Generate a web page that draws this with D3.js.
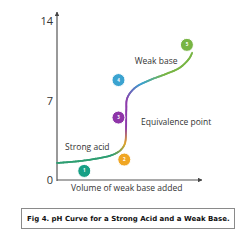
<!DOCTYPE html>
<html>
<head>
<script src="https://d3js.org/d3.v7.min.js"></script>
<style>
  body { margin: 0; background: #fff; }
  text { font-family: "Open Sans", sans-serif; fill: #333; }
</style>
</head>
<body>
<div id="chart"></div>
<script>
// pH curve: volume of weak base added vs pH
let volume = [0, 4, 7.4, 9.5, 10.9, 11.7, 11.9, 11.95, 12.1, 13.4, 16, 18.6, 21.2, 22.8, 23.3];
let ph     = [1.5, 1.67, 1.94, 2.2, 2.6, 3.2, 4.4, 6.2, 7.2, 8.1, 8.8, 9.3, 9.9, 10.7, 11.2];

let yTicks = [0, 7, 14];
let markerIds = [1, 2, 3, 4, 5];
let markerX  = [4.7, 11.6, 10.6, 10.6, 22.4];
let markerY  = [0.8, 1.8, 5.5, 8.8, 11.9];
let markerColors = ["#16a085", "#f0a623", "#8e35a8", "#3ba3d0", "#78b544"];

let labels = [
  {text: "Strong acid", v: 1.4, p: 2.6},
  {text: "Weak base", v: 13.4, p: 10.2},
  {text: "Equivalence point", v: 14.5, p: 4.8}
];

let width = 250, height = 240;
let x = d3.scaleLinear().domain([0, 25]).range([57, 202]);
let y = d3.scaleLinear().domain([0, 14]).range([180, 21]);

let svg = d3.select("#chart").append("svg")
  .attr("width", width).attr("height", height);

let defs = svg.append("defs");
defs.append("marker")
  .attr("id", "arrow")
  .attr("viewBox", "0 0 10 10")
  .attr("refX", 9).attr("refY", 5)
  .attr("markerWidth", 4).attr("markerHeight", 4)
  .attr("orient", "auto")
  .append("path").attr("d", "M0,0L10,5L0,10z").attr("fill", "#444");

// axes
svg.append("g")
  .attr("transform", "translate(" + x(0) + ",0)")
  .call(d3.axisLeft(y).tickValues(yTicks).tickSize(0).tickPadding(4))
  .call(g => g.select(".domain").remove())
  .call(g => g.selectAll("text").style("font-size", "11px").style("font-family", "Open Sans, sans-serif").attr("fill", "#333"));

svg.append("line")
  .attr("x1", x(0)).attr("y1", y(0) + 1)
  .attr("x2", x(0)).attr("y2", 12)
  .attr("stroke", "#555").attr("stroke-width", 1.2)
  .attr("marker-end", "url(#arrow)");

svg.append("line")
  .attr("x1", x(0)).attr("y1", y(0))
  .attr("x2", x(25)).attr("y2", y(0))
  .attr("stroke", "#555").attr("stroke-width", 1.2)
  .attr("marker-end", "url(#arrow)");

svg.append("text")
  .attr("x", 71).attr("y", 191)
  .style("font-size", "8.5px")
  .text("Volume of weak base added");

// curve, coloured along its length
let pts = volume.map((v, i) => [x(v), y(ph[i])]);
let line = d3.line().curve(d3.curveMonotoneY ? d3.curveCatmullRom.alpha(0.5) : d3.curveLinear);
let guide = svg.append("path").attr("d", line(pts)).attr("fill", "none").attr("stroke", "none");
let len = guide.node().getTotalLength();
let colorAt = d3.scaleLinear()
  .domain([0, 0.28, 0.37, 0.45, 0.58, 0.7, 0.82, 1])
  .range(["#2e9e72", "#2e9e72", "#e2a52a", "#8e3cab", "#8e3cab", "#3ba3d0", "#78b544", "#78b544"]);
let n = 160;
let seg = d3.range(n).map(i => {
  let a = guide.node().getPointAtLength(len * i / n);
  let b = guide.node().getPointAtLength(len * (i + 1) / n);
  return {a: a, b: b, c: colorAt((i + 0.5) / n)};
});
svg.append("g").selectAll("line").data(seg).join("line")
  .attr("x1", d => d.a.x).attr("y1", d => d.a.y)
  .attr("x2", d => d.b.x).attr("y2", d => d.b.y)
  .attr("stroke", d => d.c).attr("stroke-width", 1.8)
  .attr("stroke-linecap", "round");

// labels
svg.append("g").selectAll("text").data(labels).join("text")
  .attr("x", d => x(d.v)).attr("y", d => y(d.p))
  .style("font-size", "8.5px")
  .text(d => d.text);

// numbered markers
let m = svg.append("g").selectAll("g").data(markerIds).join("g")
  .attr("transform", (d, i) => "translate(" + x(markerX[i]) + "," + y(markerY[i]) + ")");
m.append("circle").attr("r", 6.5)
  .attr("fill", (d, i) => markerColors[i])
  .attr("stroke", "#fff").attr("stroke-width", 1);
m.append("text")
  .attr("text-anchor", "middle").attr("dy", "0.35em")
  .style("font-size", "4.5px").style("font-weight", "bold")
  .style("fill", "#fff")
  .text(d => d);

// caption
svg.append("rect")
  .attr("x", 21.5).attr("y", 208.5).attr("width", 213).attr("height", 20)
  .attr("fill", "#fff").attr("stroke", "#8a8a8a").attr("stroke-width", 1);
svg.append("text")
  .attr("x", 27).attr("y", 221)
  .style("font-family", "DejaVu Sans, sans-serif")
  .style("font-size", "7px").style("font-weight", "bold")
  .style("fill", "#111")
  .text("Fig 4. pH Curve for a Strong Acid and a Weak Base.");
</script>
</body>
</html>
